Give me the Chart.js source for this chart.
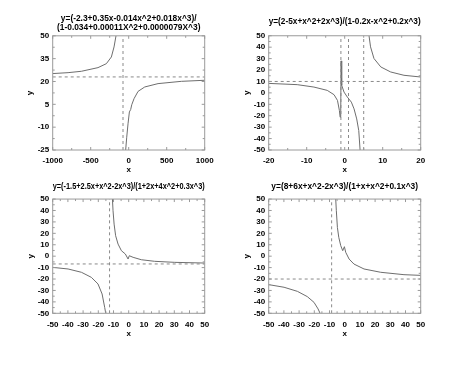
<!DOCTYPE html>
<html><head><meta charset="utf-8">
<script src="https://cdn.jsdelivr.net/npm/chart.js@4.4.1/dist/chart.umd.min.js"></script>
<style>
html,body{margin:0;padding:0;background:#fff;}
#wrap{position:relative;width:474px;height:366px;overflow:hidden;background:#fff;}
canvas{position:absolute;}
</style></head><body><div id="wrap">
<canvas id="c1" width="237" height="183" style="left:0;top:0"></canvas>
<canvas id="c2" width="237" height="183" style="left:237px;top:0"></canvas>
<canvas id="c3" width="237" height="196" style="left:0;top:170px"></canvas>
<canvas id="c4" width="237" height="196" style="left:237px;top:170px"></canvas>
</div>
<script>
// ---- titles ----
const title1 = ["y=(-2.3+0.35x-0.014x^2+0.018x^3)/", "(1-0.034+0.00011X^2+0.0000079X^3)"];
const title2 = ["y=(2-5x+x^2+2x^3)/(1-0.2x-x^2+0.2x^3)"];
const title3 = ["y=(-1.5+2.5x+x^2-2x^3)/(1+2x+4x^2+0.3x^3)"];
const title4 = ["y=(8+6x+x^2-2x^3)/(1+x+x^2+0.1x^3)"];

// ---- axis ranges / tick steps ----
const p1XRange = [-1000, 1000], p1XStep = 500, p1YRange = [-25, 50], p1YStep = 15;
const p2XRange = [-20, 20], p2XStep = 10, p2YRange = [-50, 50], p2YStep = 10;
const p3XRange = [-50, 50], p3XStep = 10, p3YRange = [-50, 50], p3YStep = 10;
const p4XRange = [-50, 50], p4XStep = 10, p4YRange = [-50, 50], p4YStep = 10;

// ---- asymptotes (vertical x values, horizontal y value) ----
const p1VAsym = [-75], p1HAsym = 23;
const p2VAsym = [-1, 1, 5], p2HAsym = 10;
const p3VAsym = [-12.6], p3HAsym = -6.8;
const p4VAsym = [-8.6], p4HAsym = -20;

// ---- curve branches ----
const p1LeftX = [-1000, -798, -623, -404, -294, -228, -193, -167];
const p1LeftY = [25.2, 25.8, 26.7, 29.1, 31.7, 36.1, 42.7, 50];
const p1RightX = [-40, -26, -9, 9, 26, 40, 70, 123, 211, 386, 693, 1000];
const p1RightY = [-25, -16.6, -7.8, 0, 1.6, 4.7, 8.7, 13.5, 16.4, 18.6, 20.1, 20.8];

const p2MidX = [-20, -12.5, -8.1, -4.6, -2.8, -1.9, -1.4, -1.2, -1.05, -0.95, -0.79, -0.18, 0.7, 1.75, 2.46, 3.16, 3.7, 4.05];
const p2MidY = [8.3, 7.2, 5.1, 2.2, -1.6, -6.6, -15.4, -21.3, -21, 28, 6.6, 0.7, -3.7, -8.1, -14, -22.8, -33, -50];
const p2RightX = [6.4, 6.8, 7.7, 9.5, 12.1, 15.6, 20];
const p2RightY = [50, 40.3, 30.1, 22.7, 18.3, 15.4, 13.9];

const p3LeftX = [-50, -39.9, -31.1, -24.6, -20.2, -17.5, -15.8, -15.1];
const p3LeftY = [-9.8, -11.2, -14.1, -18.5, -24.3, -33.1, -44.8, -50];
const p3RightX = [-10.7, -10.3, -9.6, -8.6, -7.0, -4.8, -2.2, -0.4, 0.4, 2.9, 8.3, 17.1, 30.3, 50];
const p3RightY = [50, 39.8, 28.1, 17.9, 10.6, 4.8, 1.9, -2.5, 0.4, -1.0, -3.1, -4.5, -5.4, -6.0];

const p4LeftX = [-50, -39.9, -31.1, -24.6, -20.2, -17.5, -16.2];
const p4LeftY = [-24.9, -27.2, -30.8, -35.4, -40.4, -46.2, -50];
const p4RightX = [-5.9, -5.5, -4.8, -3.9, -2.6, -1.3, -0.2, 0.66, 2.9, 6.1, 12.7, 23.7, 39, 50];
const p4RightY = [50, 39.8, 25.2, 16.5, 9.2, 4.8, 8.3, 3.4, -2.5, -6.9, -11.2, -14.1, -16.2, -16.8];

// ---- styling ----
const FONT = {family: '"Liberation Sans", Arial, Helvetica, sans-serif', weight: 'bold', size: 8, lineHeight: 1.2};
const TFONT = {family: '"Liberation Sans", Arial, Helvetica, sans-serif', weight: 'bold', size: 8.4, lineHeight: 1.15};
const CURVE = '#6e6e6e', DASH = '#8a8a8a', FRAME = '#9a9a9a';

function lineDS(xs, ys, color, dash) {
  return {data: xs.map((x, i) => ({x: x, y: ys[i]})), showLine: true, borderColor: color,
    borderWidth: 1, pointRadius: 0, borderDash: dash || [], tension: 0, fill: false};
}

const framePlugin = {
  id: 'frameTicks',
  afterDraw(chart) {
    const {ctx, chartArea: a, scales: {x, y}} = chart;
    ctx.save();
    ctx.strokeStyle = FRAME; ctx.lineWidth = 1;
    ctx.strokeRect(a.left, a.top, a.right - a.left, a.bottom - a.top);
    const marks = (sc) => {
      const v = sc.ticks.map(t => t.value), out = [];
      v.forEach((val, i) => { out.push([val, 3]); if (i < v.length - 1) out.push([(val + v[i + 1]) / 2, 2]); });
      return out;
    };
    ctx.beginPath();
    marks(x).forEach(([v, l]) => { const p = x.getPixelForValue(v);
      ctx.moveTo(p, a.bottom); ctx.lineTo(p, a.bottom - l); ctx.moveTo(p, a.top); ctx.lineTo(p, a.top + l); });
    marks(y).forEach(([v, l]) => { const p = y.getPixelForValue(v);
      ctx.moveTo(a.left, p); ctx.lineTo(a.left + l, p); ctx.moveTo(a.right, p); ctx.lineTo(a.right - l, p); });
    ctx.stroke();
    ctx.restore();
  }
};

function makeChart(id, spec, lay) {
  const ds = [];
  spec.vAsym.forEach(v => ds.push(lineDS([v, v], [spec.yRange[0], spec.yRange[1]], DASH, [3, 3])));
  ds.push(lineDS([spec.xRange[0], spec.xRange[1]], [spec.hAsym, spec.hAsym], DASH, [3, 3]));
  spec.branches.forEach(b => ds.push(lineDS(b[0], b[1], CURVE)));
  return new Chart(document.getElementById(id), {
    type: 'scatter',
    data: {datasets: ds},
    options: {
      responsive: false, animation: false,
      layout: {padding: {left: 0, right: lay.padRight, top: 0, bottom: 0}},
      plugins: {
        legend: {display: false}, tooltip: {enabled: false},
        title: {display: true, text: spec.title, font: TFONT, color: '#000', fullSize: false,
          padding: {top: lay.titleTop, bottom: lay.titleBottom}}
      },
      scales: {
        x: {type: 'linear', min: spec.xRange[0], max: spec.xRange[1],
          grid: {display: false, drawTicks: false}, border: {display: false},
          ticks: {stepSize: spec.xStep, callback: v => String(v), font: FONT, color: '#000',
            padding: lay.xTickPad, maxRotation: 0, autoSkip: false},
          title: {display: true, text: 'x', font: FONT, color: '#000', padding: {top: 0, bottom: lay.xTitlePad}},
          afterFit: s => { s.height = lay.xHeight; }},
        y: {type: 'linear', min: spec.yRange[0], max: spec.yRange[1],
          grid: {display: false, drawTicks: false}, border: {display: false},
          ticks: {stepSize: spec.yStep, callback: v => String(v), font: FONT, color: '#000',
            padding: 3.5, autoSkip: false},
          title: {display: true, text: 'y', font: FONT, color: '#000', padding: {top: lay.yTitlePad, bottom: 0}},
          afterFit: s => { s.width = lay.yWidth; }}
      }
    },
    plugins: [framePlugin]
  });
}

makeChart('c1', {title: title1, xRange: p1XRange, xStep: p1XStep, yRange: p1YRange, yStep: p1YStep,
  vAsym: p1VAsym, hAsym: p1HAsym, branches: [[p1LeftX, p1LeftY], [p1RightX, p1RightY]]},
  {padRight: 32.3, titleTop: 13.5, titleBottom: 3, xHeight: 33, xTickPad: 5.5, xTitlePad: 8.9, yTitlePad: 25, yWidth: 52.7});
makeChart('c2', {title: title2, xRange: p2XRange, xStep: p2XStep, yRange: p2YRange, yStep: p2YStep,
  vAsym: p2VAsym, hAsym: p2HAsym, branches: [[p2MidX, p2MidY], [p2RightX, p2RightY]]},
  {padRight: 53.3, titleTop: 17.2, titleBottom: 8.9, xHeight: 33, xTickPad: 5.5, xTitlePad: 8.9, yTitlePad: 5.2, yWidth: 31.7});
makeChart('c3', {title: title3, xRange: p3XRange, xStep: p3XStep, yRange: p3YRange, yStep: p3YStep,
  vAsym: p3VAsym, hAsym: p3HAsym, branches: [[p3LeftX, p3LeftY], [p3RightX, p3RightY]]},
  {padRight: 32.3, titleTop: 11.5, titleBottom: 7.9, xHeight: 52.7, xTickPad: 6.5, xTitlePad: 27.5, yTitlePad: 26, yWidth: 52.7});
makeChart('c4', {title: title4, xRange: p4XRange, xStep: p4XStep, yRange: p4YRange, yStep: p4YStep,
  vAsym: p4VAsym, hAsym: p4HAsym, branches: [[p4LeftX, p4LeftY], [p4RightX, p4RightY]]},
  {padRight: 53.3, titleTop: 11.5, titleBottom: 7.9, xHeight: 52.7, xTickPad: 6.5, xTitlePad: 27.5, yTitlePad: 5.2, yWidth: 31.7});
</script>
</body></html>
